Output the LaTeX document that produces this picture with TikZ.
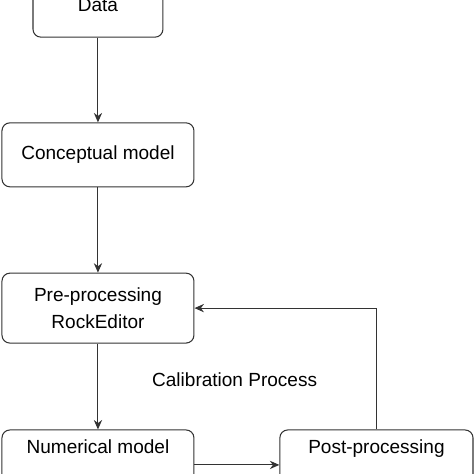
\documentclass[tikz,border=0pt]{standalone}
\usepackage{fontspec}
\setmainfont{Liberation Sans}
\usetikzlibrary{arrows.meta}

\begin{document}
\begin{tikzpicture}[>={Stealth[length=2.4mm,width=2.1mm]},line width=0.75pt,
  box/.style={draw=black!80,rounded corners=2mm,align=center,minimum width=4.86cm,minimum height=1.77cm,font=\fontsize{13.7}{20}\selectfont}]
  \useasboundingbox (0,0) rectangle (12,-12);

  % Main chain
  \node[box,minimum width=3.29cm,minimum height=1.62cm] (data) at (2.48,-0.13) {Data};
  \node[box,minimum height=1.62cm] (concept) at (2.48,-3.92) {Conceptual model};
  \node[box] (pre) at (2.48,-7.8) {Pre-processing\\RockEditor};
  \node[box] (num) at (2.48,-11.77) {Numerical model\\\strut};
  \node[box,minimum width=4.89cm] (post) at (9.53,-11.77) {Post-processing\\\strut};

  \draw[black!80,->] (data) -- (concept);
  \draw[black!80,->] (concept) -- (pre);
  \draw[black!80,->] (pre) -- (num);
  \draw[black!80,->] (num) -- (post);

  % Calibration loop
  \draw[black!80,->] (post.north) |- (pre.east);
  \node[font=\fontsize{13.7}{20}\selectfont] (calib) at (5.94,-9.6) {Calibration Process};
\end{tikzpicture}
\end{document}
